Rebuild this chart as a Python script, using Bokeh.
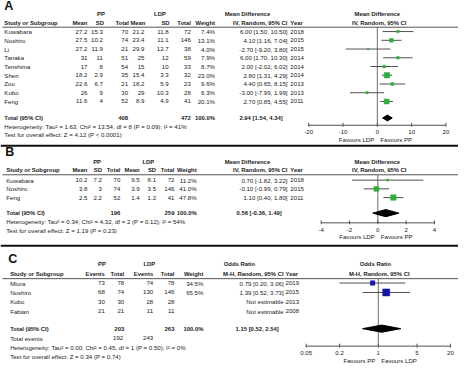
import math
from bokeh.plotting import figure
from bokeh.models import Range1d, LogScale, ColumnDataSource
from bokeh.core.properties import value
from bokeh.embed import file_html
from bokeh.resources import INLINE

# ---------------- data ----------------
# Panel A
a_studies = ["Kuwabara", "Noshiro", "Li", "Tanaka", "Tenshima", "Shen", "Zou", "Kubo", "Feng"]
a_pp_mean = [27.2, 27.5, 27.2, 31, 17, 18.2, 22.6, 26, 11.6]
a_pp_sd = [15.3, 10.2, 11.9, 11, 8, 2.9, 6.7, 9, 4]
a_pp_n = [70, 74, 21, 51, 54, 35, 21, 30, 52]
a_ldp_mean = [21.2, 23.4, 29.9, 25, 15, 15.4, 18.2, 29, 8.9]
a_ldp_sd = [11.8, 11.1, 12.7, 12, 10, 3.3, 5.9, 10.3, 4.9]
a_ldp_n = [72, 146, 38, 59, 33, 32, 23, 28, 41]
a_weight = [7.4, 13.1, 4.0, 7.9, 8.7, 23.0, 9.6, 6.3, 20.1]
a_md = [6.00, 4.10, -2.70, 6.00, 2.00, 2.80, 4.40, -3.00, 2.70]
a_lo = [1.50, 1.16, -9.20, 1.70, -2.02, 1.31, 0.65, -7.99, 0.85]
a_hi = [10.50, 7.04, 3.80, 10.30, 6.02, 4.29, 8.15, 1.99, 4.55]
a_year = [2018, 2015, 2015, 2014, 2014, 2014, 2013, 2013, 2011]
a_total = [2.94, 1.54, 4.34]
a_total_n = [408, 472]
a_het = "Heterogeneity: Tau\u00b2 = 1.63; Chi\u00b2 = 13.54, df = 8 (P = 0.09); I\u00b2 = 41%"
a_test = "Test for overall effect: Z = 4.12 (P < 0.0001)"
a_ticks = [-20, -10, 0, 10, 20]
a_tick_labels = ["-20", "-10", "0", "10", "20"]

# Panel B
b_studies = ["Kuwabara", "Noshiro", "Feng"]
b_pp_mean = [10.2, 3.8, 2.5]
b_pp_sd = [7.2, 3, 2.2]
b_pp_n = [70, 74, 52]
b_ldp_mean = [9.5, 3.9, 1.4]
b_ldp_sd = [8.1, 3.5, 1.2]
b_ldp_n = [72, 146, 41]
b_weight = [11.2, 41.0, 47.8]
b_md = [0.70, -0.10, 1.10]
b_lo = [-1.82, -0.99, 0.40]
b_hi = [3.22, 0.79, 1.80]
b_year = [2018, 2015, 2011]
b_total = [0.56, -0.36, 1.49]
b_total_n = [196, 259]
b_het = "Heterogeneity: Tau\u00b2 = 0.34; Chi\u00b2 = 4.32, df = 2 (P = 0.12); I\u00b2 = 54%"
b_test = "Test for overall effect: Z = 1.19 (P = 0.23)"
b_ticks = [-4, -2, 0, 2, 4]
b_tick_labels = ["-4", "-2", "0", "2", "4"]

# Panel C
c_studies = ["Miura", "Noshiro", "Kubo", "Fabian"]
c_pp_events = [73, 68, 30, 21]
c_pp_n = [78, 74, 30, 21]
c_ldp_events = [74, 130, 28, 11]
c_ldp_n = [78, 146, 28, 11]
c_weight = [34.5, 65.5, None, None]
c_or = [0.79, 1.39, None, None]
c_lo = [0.20, 0.52, None, None]
c_hi = [3.06, 3.73, None, None]
c_year = [2019, 2015, 2013, 2008]
c_total = [1.15, 0.52, 2.54]
c_total_n = [203, 263]
c_total_events = [192, 243]
c_het = "Heterogeneity: Tau\u00b2 = 0.00; Chi\u00b2 = 0.45, df = 1 (P = 0.50); I\u00b2 = 0%"
c_test = "Test for overall effect: Z = 0.34 (P = 0.74)"
c_ticks = [0.05, 0.2, 1, 5, 20]
c_tick_labels = ["0.05", "0.2", "1", "5", "20"]

# ---------------- figure ----------------
FONT = value("Liberation Sans")
FS = "6.1px"
FSB = "5.9px"
TXT = "#222222"
GREEN = "#2db03a"
BLUE = "#1414a8"

p = figure(width=458, height=367, x_range=Range1d(0, 474), y_range=Range1d(381, 3),
           x_axis_location=None, y_axis_location=None, toolbar_location=None,
           output_backend="svg", min_border=0, outline_line_color=None,
           background_fill_color="white", border_fill_color="white")
p.grid.visible = False

# forest scales (zero position in layout px, px per unit)
def lin_range(zero_px, ppu):
    return Range1d((0 - zero_px) / ppu, (474 - zero_px) / ppu)

def log_range(one_px, ppd):
    return Range1d(10 ** ((0 - one_px) / ppd), 10 ** ((474 - one_px) / ppd))

p.extra_x_ranges = {"A": lin_range(390, 3.55), "B": lin_range(390.5, 14.65), "C": log_range(391, 57.4)}
p.extra_x_scales = {"C": LogScale()}

texts = {}
def t(x, y, s, align="left", bold=False):
    d = texts.setdefault((align, bold), {"x": [], "y": [], "t": []})
    d["x"].append(x); d["y"].append(y); d["t"].append(str(s))

def g(v):
    return f"{v:g}"

def ci(m, l, h):
    return f"{m:.2f} [{l:.2f}, {h:.2f}]"

def forest(rng, ys, est, lo, hi, wt, color, smax, ticks, tlabels, axis_y, top_y,
           tot, tot_y, dh, favl, favr, ref):
    ok = [i for i in range(len(ys)) if est[i] is not None]
    yy = [ys[i] for i in ok]
    p.segment(x0=[ref], y0=[top_y], x1=[ref], y1=[axis_y], x_range_name=rng,
              line_color="#6e6e6e", line_width=1)
    p.segment(x0=[lo[i] for i in ok], x1=[hi[i] for i in ok], y0=yy, y1=yy,
              x_range_name=rng, line_color="#505050", line_width=1)
    wmax = max(wt[i] for i in ok)
    sizes = [smax * (wt[i] / wmax) ** 0.7 for i in ok]
    p.scatter(x=[est[i] for i in ok], y=yy, size=sizes, marker="square",
              fill_color=color, line_color=color, line_width=0.5, x_range_name=rng)
    m, l, h = tot
    p.patches(xs=[[l, m, h, m]], ys=[[tot_y, tot_y - dh, tot_y, tot_y + dh]],
              x_range_name=rng, fill_color="black", line_color="black")
    n = len(ticks)
    p.segment(x0=[ticks[0]], x1=[ticks[-1]], y0=[axis_y], y1=[axis_y],
              x_range_name=rng, line_color="#505050", line_width=1)
    p.segment(x0=ticks, x1=ticks, y0=[axis_y - 2.5] * n, y1=[axis_y + 1.5] * n,
              x_range_name=rng, line_color="#505050", line_width=1)
    p.text(x=ticks, y=[axis_y + 7] * n, text=tlabels, x_range_name=rng,
           text_align="center", text_baseline="middle", text_font=FONT,
           text_font_size=FS, text_color=TXT)
    p.text(x=[ref], y=[axis_y + 14.5], text=[favl], x_range_name=rng, x_offset=-3,
           text_align="right", text_baseline="middle", text_font=FONT,
           text_font_size=FS, text_color=TXT)
    p.text(x=[ref], y=[axis_y + 14.5], text=[favr], x_range_name=rng, x_offset=3,
           text_align="left", text_baseline="middle", text_font=FONT,
           text_font_size=FS, text_color=TXT)

letters = {"x": [4, 5, 8], "y": [9, 159.5, 269], "t": ["A", "B", "C"]}

# ---------- Panel A ----------
xs0 = 4
t(104, 17, "PP", "center", True); t(165, 17, "LDP", "center", True)
t(232, 17, "Mean Difference", "left", True); t(390, 17, "Mean Difference", "center", True)
hy = 26
t(xs0, hy, "Study or Subgroup", "left", True)
for x, s in [(90, "Mean"), (107, "SD"), (133, "Total"), (150, "Mean"), (175, "SD"),
             (197, "Total"), (222, "Weight"), (297, "IV, Random, 95% CI")]:
    t(x, hy, s, "right", True)
t(300, hy, "Year", "left", True)
t(392, hy, "IV, Random, 95% CI", "center", True)
ay = [35 + 9 * i for i in range(len(a_studies))]
for i, y in enumerate(ay):
    t(xs0, y, a_studies[i])
    t(90, y, g(a_pp_mean[i]), "right"); t(106, y, g(a_pp_sd[i]), "right")
    t(132, y, a_pp_n[i], "right"); t(149, y, g(a_ldp_mean[i]), "right")
    t(174, y, g(a_ldp_sd[i]), "right"); t(197, y, a_ldp_n[i], "right")
    t(222, y, f"{a_weight[i]:.1f}%", "right")
    t(297, y, ci(a_md[i], a_lo[i], a_hi[i]), "right")
    t(300, y, a_year[i])
aty = 124
t(xs0, aty, "Total (95% CI)", "left", True)
t(132, aty, a_total_n[0], "right", True); t(197, aty, a_total_n[1], "right", True)
t(222, aty, "100.0%", "right", True); t(292, aty, ci(*a_total), "right", True)
t(xs0, 133, a_het); t(xs0, 141.5, a_test)
forest("A", ay, a_md, a_lo, a_hi, a_weight, GREEN, 5.5, a_ticks, a_tick_labels,
       131.5, 30.5, a_total, aty, 3, "Favours LDP", "Favours PP", 0)

# ---------- Panel B ----------
xs0 = 6
t(100, 169, "PP", "center", True); t(153, 169, "LDP", "center", True)
t(232, 169, "Mean Difference", "left", True); t(390, 169, "Mean Difference", "center", True)
hy = 178
t(xs0, hy, "Study or Subgroup", "left", True)
for x, s in [(90, "Mean"), (105, "SD"), (124, "Total"), (144, "Mean"), (161, "SD"),
             (180, "Total"), (203, "Weight"), (297, "IV, Random, 95% CI")]:
    t(x, hy, s, "right", True)
t(300, hy, "Year", "left", True)
t(392, hy, "IV, Random, 95% CI", "center", True)
by = [188 + 9 * i for i in range(len(b_studies))]
for i, y in enumerate(by):
    t(xs0, y, b_studies[i])
    t(90, y, g(b_pp_mean[i]), "right"); t(105, y, g(b_pp_sd[i]), "right")
    t(124, y, b_pp_n[i], "right"); t(144, y, g(b_ldp_mean[i]), "right")
    t(161, y, g(b_ldp_sd[i]), "right"); t(180, y, b_ldp_n[i], "right")
    t(203, y, f"{b_weight[i]:.1f}%", "right")
    t(297, y, ci(b_md[i], b_lo[i], b_hi[i]), "right")
    t(300, y, b_year[i])
bty = 222
t(xs0, bty, "Total (95% CI)", "left", True)
t(124, bty, b_total_n[0], "right", True); t(180, bty, b_total_n[1], "right", True)
t(203, bty, "100.0%", "right", True); t(291, bty, ci(*b_total), "right", True)
t(xs0, 231, b_het); t(xs0, 240, b_test)
forest("B", by, b_md, b_lo, b_hi, b_weight, GREEN, 5.5, b_ticks, b_tick_labels,
       232, 182.5, b_total, bty, 3.7, "Favours LDP", "Favours PP", 0)

# ---------- Panel C ----------
xs0 = 10
t(105, 274.5, "PP", "center", True); t(154, 274.5, "LDP", "center", True)
t(231, 274.5, "Odds Ratio", "left", True); t(388, 274.5, "Odds Ratio", "center", True)
hy = 284.5
t(xs0, hy, "Study or Subgroup", "left", True)
for x, s in [(108, "Events"), (128, "Total"), (158, "Events"), (180, "Total"),
             (210, "Weight"), (293, "M-H, Random, 95% CI")]:
    t(x, hy, s, "right", True)
t(295, hy, "Year", "left", True)
t(392, hy, "M-H, Random, 95% CI", "center", True)
cy = [294 + 9.7 * i for i in range(len(c_studies))]
for i, y in enumerate(cy):
    t(xs0, y, c_studies[i])
    t(108, y, c_pp_events[i], "right"); t(128, y, c_pp_n[i], "right")
    t(158, y, c_ldp_events[i], "right"); t(180, y, c_ldp_n[i], "right")
    if c_weight[i] is not None:
        t(210, y, f"{c_weight[i]:.1f}%", "right")
        t(293, y, ci(c_or[i], c_lo[i], c_hi[i]), "right")
    else:
        t(293, y, "Not estimable", "right")
    t(295, y, c_year[i])
cty = 341
t(xs0, cty, "Total (95% CI)", "left", True)
t(128, cty, c_total_n[0], "right", True); t(180, cty, c_total_n[1], "right", True)
t(210, cty, "100.0%", "right", True); t(288, cty, ci(*c_total), "right", True)
t(xs0, 351, "Total events")
t(127, 351, c_total_events[0], "right"); t(158, 351, c_total_events[1], "right")
t(xs0, 360.5, c_het); t(xs0, 370, c_test)
forest("C", cy, c_or, c_lo, c_hi, c_weight, BLUE, 7, c_ticks, c_tick_labels,
       359, 289.5, c_total, cty, 3.7, "Favours PP", "Favours LDP", 1)

# header rules and panel separators
p.segment(x0=[2, 2, 2], x1=[474, 474, 474], y0=[30.5, 182.5, 289.5], y1=[30.5, 182.5, 289.5],
          line_color="#555555", line_width=1)
p.segment(x0=[0, 0], x1=[474, 474], y0=[152.5, 255.5], y1=[152.5, 255.5],
          line_color="#111111", line_width=2)

for (align, bold), d in texts.items():
    p.text(x="x", y="y", text="t", source=ColumnDataSource(d), text_align=align,
           text_baseline="middle", text_font=FONT,
           text_font_size=FSB if bold else FS,
           text_font_style="bold" if bold else "normal", text_color=TXT)
p.text(x="x", y="y", text="t", source=ColumnDataSource(letters), text_align="left",
       text_baseline="middle", text_font=FONT, text_font_size="12.5px",
       text_font_style="bold", text_color="#111111")

open("out.html", "w").write(file_html(p, INLINE))
